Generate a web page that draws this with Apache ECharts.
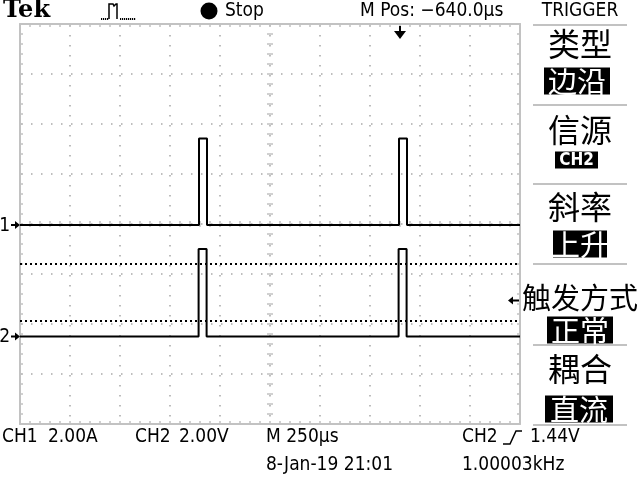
<!DOCTYPE html>
<html><head><meta charset="utf-8">
<script src="https://cdn.jsdelivr.net/npm/echarts@6/dist/echarts.min.js"></script>
<style>html,body{margin:0;padding:0;background:#fff}#c{width:640px;height:480px}</style>
</head><body><div id="c"></div>
<script>
const timePerDivUs = 250;            // M 250µs
const xDivisions = 10;
const yDivisions = 8;
const ch1ScaleA = 2.0;               // CH1 2.00A/div
const ch2ScaleV = 2.0;               // CH2 2.00V/div
const ch1PosDiv = -0.02;             // ground marker of CH1 (divisions from centre)
const ch2PosDiv = -2.25;             // ground marker of CH2
const ch1TimeUs = [0, 895, 895, 935, 935, 1895, 1895, 1935, 1935, 2500];
const ch1Amps   = [0, 0, 3.46, 3.46, 0, 0, 3.46, 3.46, 0, 0];
const ch2TimeUs = [0, 893, 893, 933, 933, 1893, 1893, 1933, 1933, 2500];
const ch2Volts  = [0, 0, 3.5, 3.5, 0, 0, 3.5, 3.5, 0, 0];
const trigLevelV = 1.44;
const trigTimeUs = 1900;
const cursorV = [2.92, 0.62];
const menuTitles = ['类型', '信源', '斜率', '触发方式', '耦合'];
const menuValues = ['边沿', 'CH2', '上升', '正常', '直流'];
const bottomRow1 = ['CH1', '2.00A', 'CH2', '2.00V', 'M 250µs', 'CH2', '1.44V'];
const bottomRow2 = ['8-Jan-19 21:01', '1.00003kHz'];

// ---- chart ----
const chart = echarts.init(document.getElementById('c'), null, {renderer: 'canvas'});
const FONT = "'Liberation Sans Narrow','DejaVu Sans Condensed','Roboto Condensed','Liberation Sans',sans-serif";
const CJK = "'Noto Sans CJK SC',sans-serif";
const GRAY = '#c2c2c2';
const DOT = '#a8a8a8';
const xMax = timePerDivUs * xDivisions;

const ch1Data = ch1TimeUs.map((t, i) => [t, ch1Amps[i] / ch1ScaleA + ch1PosDiv]);
const ch2Data = ch2TimeUs.map((t, i) => [t, ch2Volts[i] / ch2ScaleV + ch2PosDiv]);

function xAxisDef(position, offset, showLine, inside, split) {
  return {
    type: 'value', min: 0, max: xMax, interval: timePerDivUs, position: position, offset: offset,
    axisLine: {show: showLine, onZero: false, lineStyle: {color: GRAY, width: 2}},
    axisTick: {show: true, inside: inside, length: 3, lineStyle: {color: GRAY, width: 1.5}},
    minorTick: {show: true, splitNumber: 5, length: 3, lineStyle: {color: GRAY, width: 1.5}},
    axisLabel: {show: false},
    splitLine: {show: split, lineStyle: {color: DOT, width: 1.5, type: [1.5, 8.5], dashOffset: -1}}
  };
}
function yAxisDef(position, offset, showLine, inside, split) {
  return {
    type: 'value', min: -yDivisions / 2, max: yDivisions / 2, interval: 1, position: position, offset: offset,
    axisLine: {show: showLine, onZero: false, lineStyle: {color: GRAY, width: 2}},
    axisTick: {show: true, inside: inside, length: 3, lineStyle: {color: GRAY, width: 1.5}},
    minorTick: {show: true, splitNumber: 5, length: 3, lineStyle: {color: GRAY, width: 1.5}},
    axisLabel: {show: false},
    splitLine: {show: split, lineStyle: {color: DOT, width: 1.5, type: [1.5, 8.5], dashOffset: -1}}
  };
}

chart.setOption({
  animation: false,
  backgroundColor: '#fff',
  grid: {left: 20, top: 24, width: 500, height: 400, containLabel: false, show: false},
  xAxis: [
    xAxisDef('bottom', 0, true, true, true),
    xAxisDef('top', 0, true, true, false),
    xAxisDef('bottom', -200, false, true, false),
    xAxisDef('bottom', -200, false, false, false)
  ],
  yAxis: [
    yAxisDef('left', 0, true, true, true),
    yAxisDef('right', 0, true, true, false),
    yAxisDef('left', -250, false, true, false),
    yAxisDef('left', -250, false, false, false)
  ],
  series: [
    {name: 'CH1', type: 'line', data: ch1Data, showSymbol: false, symbol: 'none', silent: true,
     lineStyle: {color: '#000', width: 2}, z: 5},
    {name: 'CH2', type: 'line', data: ch2Data, showSymbol: false, symbol: 'none', silent: true,
     lineStyle: {color: '#000', width: 2}, z: 5,
     markLine: {silent: true, symbol: ['none', 'none'], label: {show: false},
       lineStyle: {color: '#000', width: 2, type: [2, 3]},
       data: cursorV.map(v => ({yAxis: v / ch2ScaleV + ch2PosDiv}))}}
  ]
});

// ---- screen annotations (markers positioned through the axes) ----
const y1 = chart.convertToPixel({yAxisIndex: 0}, ch1PosDiv);
const y2 = chart.convertToPixel({yAxisIndex: 0}, ch2PosDiv);
const yT = chart.convertToPixel({yAxisIndex: 0}, ch2PosDiv + trigLevelV / ch2ScaleV);
const xT = chart.convertToPixel({xAxisIndex: 0}, trigTimeUs);

function txt(s, x, y, size, opts) {
  return {type: 'text', x: x, y: y, z: 10,
    style: {text: s, font: (opts && opts.weight ? opts.weight + ' ' : '') + size + 'px ' + ((opts && opts.family) || FONT),
      fill: (opts && opts.fill) || '#000', align: (opts && opts.align) || 'left', verticalAlign: 'middle'}};
}
function rightArrow(y) {
  return {type: 'polygon', z: 10, shape: {points: [[11, y - 1], [15, y - 1], [15, y - 4], [20, y], [15, y + 4], [15, y + 1], [11, y + 1]]}, style: {fill: '#000'}};
}
const g = [];
// header
g.push(txt('Tek', 3, 11, 24, {weight: 'bold', family: "'DejaVu Serif','Liberation Serif',serif"}));
g.push({type: 'polyline', z: 10, shape: {points: [[109, 19], [109, 4], [113, 4], [114, 6], [116, 4], [117, 4], [117, 19]]}, style: {stroke: '#000', lineWidth: 1.5, fill: null}});
[101, 103, 105, 107, 120, 122, 124, 126, 128, 130, 132, 134].forEach(x => g.push({type: 'rect', z: 10, shape: {x: x, y: 18, width: 1.2, height: 2}, style: {fill: '#000'}}));
g.push({type: 'circle', z: 10, shape: {cx: 209, cy: 11, r: 8.5}, style: {fill: '#000'}});
g.push(txt('Stop', 225, 11, 19));
g.push(txt('M Pos: \u2212640.0\u00b5s', 360, 11, 19));
g.push(txt('TRIGGER', 580, 11, 19, {align: 'center'}));
// trigger position marker
g.push({type: 'polygon', z: 10, shape: {points: [[xT - 1, 26], [xT + 1, 26], [xT + 1, 31], [xT + 6, 31], [xT, 39], [xT - 6, 31], [xT - 1, 31]]}, style: {fill: '#000'}});
// channel ground markers
g.push(txt('1', 10, y1 + 1, 19, {align: 'right'}));
g.push(rightArrow(y1));
g.push(txt('2', 10, y2 + 1, 19, {align: 'right'}));
g.push(rightArrow(y2));
// trigger level marker
g.push({type: 'polygon', z: 10, shape: {points: [[508, yT], [513, yT - 4], [513, yT - 1], [519, yT - 1], [519, yT + 1], [513, yT + 1], [513, yT + 4]]}, style: {fill: '#000'}});
// right menu
[25, 105, 184, 264, 345, 425].forEach(y => g.push({type: 'line', z: 10, shape: {x1: 533, y1: y, x2: 627, y2: y}, style: {stroke: GRAY, lineWidth: 2}}));
const titleY = [44, 130, 207, 298, 369];
const valueY = [81, 160, 244, 330, 409];
const boxes = [[544, 66], [555, 43], [553, 54], [547, 66], [545, 68]];
const boxH = [27, 17, 27, 27, 27];
menuTitles.forEach((s, i) => g.push(txt(s, 580, titleY[i], i === 3 ? 29 : 32, {family: CJK, align: 'center'})));
menuValues.forEach((s, i) => {
  g.push({type: 'rect', z: 10, shape: {x: boxes[i][0], y: valueY[i] - boxH[i] / 2, width: boxes[i][1], height: boxH[i]}, style: {fill: '#000'}});
  g.push(txt(s, boxes[i][0] + boxes[i][1] / 2, valueY[i] + 1, i === 1 ? 17 : 29, {family: i === 1 ? FONT : CJK, fill: '#fff', align: 'center', weight: i === 1 ? 'bold' : ''}));
});
// bottom status lines
const r1x = [2, 48, 135, 179, 266, 462, 530];
bottomRow1.forEach((s, i) => g.push(txt(s, r1x[i], 437, 19)));
g.push({type: 'polyline', z: 10, shape: {points: [[503, 444], [510, 444], [516, 431], [522, 431]]}, style: {stroke: '#000', lineWidth: 1.5, fill: null}});
g.push(txt(bottomRow2[0], 266, 465, 19));
g.push(txt(bottomRow2[1], 462, 465, 19));

chart.setOption({graphic: {elements: g}});
</script></body></html>
